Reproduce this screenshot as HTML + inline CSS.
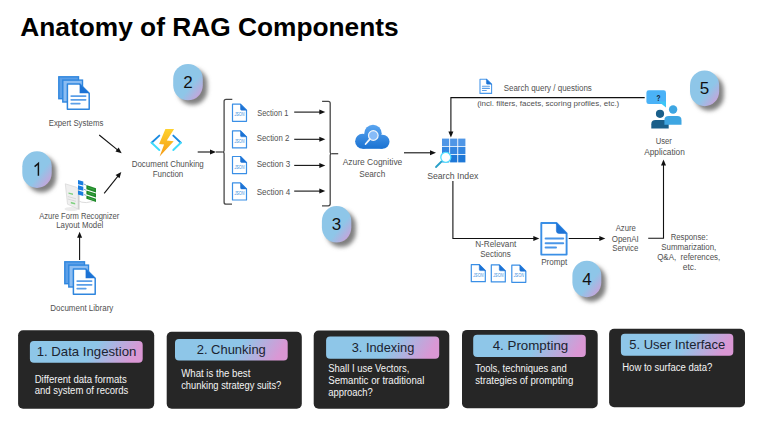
<!DOCTYPE html>
<html><head><meta charset="utf-8">
<style>
html,body{margin:0;padding:0;background:#fff;width:768px;height:421px;overflow:hidden}
svg{display:block}
text{font-family:"Liberation Sans",sans-serif}
.lbl{fill:#505050}
.ttl{font-size:26.3px;font-weight:bold;fill:#000}
.num{font-size:17px;fill:#111}
.hd{fill:#1b2330}
.bd{fill:#f4f4f4}
</style></head><body>
<svg width="768" height="421" viewBox="0 0 768 421">
<defs>
  <linearGradient id="bub" x1="0" y1="0" x2="1" y2="1">
    <stop offset="0.6" stop-color="#8ec6e8"/>
    <stop offset="0.86" stop-color="#c0a8dc"/>
    <stop offset="1" stop-color="#ec96d6"/>
  </linearGradient>
  <linearGradient id="hdr" x1="0" y1="0" x2="1" y2="0.12">
    <stop offset="0.6" stop-color="#8ec6e8"/>
    <stop offset="1" stop-color="#da97d4"/>
  </linearGradient>
  <linearGradient id="bolt" x1="0" y1="0" x2="0" y2="1">
    <stop offset="0" stop-color="#fed22f"/>
    <stop offset="1" stop-color="#f59a16"/>
  </linearGradient>
  <filter id="sh" x="-50%" y="-50%" width="200%" height="200%">
    <feGaussianBlur stdDeviation="2.3"/>
  </filter>
  
  
</defs>

<text class="ttl" x="20.3" y="35.7">Anatomy of RAG Components</text>

<g transform="translate(58,76)">
    <rect x="0.8" y="0.8" width="19.7" height="21.9" fill="#5b9fe8" stroke="#2f86de" stroke-width="1.4"/>
    <rect x="4.8" y="4.1" width="19.7" height="21.9" fill="#8cbdf2" stroke="#2f86de" stroke-width="1.4"/>
    <path d="M9.4,7.9 H21.6 L31.2,17.2 V33.2 H9.4 Z" fill="#fff" stroke="#2f86de" stroke-width="1.5" stroke-linejoin="round"/>
    <path d="M21.6,7.9 L31.2,17.2 H21.6 Z" fill="#1c72d4"/>
    <g stroke="#5b9fe8" stroke-width="1.7" stroke-linecap="round">
    <line x1="13.2" y1="20.1" x2="27.6" y2="20.1"/>
    <line x1="13.2" y1="23.8" x2="27.6" y2="23.8"/>
    <line x1="13.2" y1="27.6" x2="21.8" y2="27.6"/>
    </g>
  </g>
<g transform="translate(64,261)">
    <rect x="0.8" y="0.8" width="19.7" height="21.9" fill="#5b9fe8" stroke="#2f86de" stroke-width="1.4"/>
    <rect x="4.8" y="4.1" width="19.7" height="21.9" fill="#8cbdf2" stroke="#2f86de" stroke-width="1.4"/>
    <path d="M9.4,7.9 H21.6 L31.2,17.2 V33.2 H9.4 Z" fill="#fff" stroke="#2f86de" stroke-width="1.5" stroke-linejoin="round"/>
    <path d="M21.6,7.9 L31.2,17.2 H21.6 Z" fill="#1c72d4"/>
    <g stroke="#5b9fe8" stroke-width="1.7" stroke-linecap="round">
    <line x1="13.2" y1="20.1" x2="27.6" y2="20.1"/>
    <line x1="13.2" y1="23.8" x2="27.6" y2="23.8"/>
    <line x1="13.2" y1="27.6" x2="21.8" y2="27.6"/>
    </g>
  </g>

<text class="lbl" style="white-space:pre" x="48.7" y="125.8" font-size="8.3" textLength="54.61" lengthAdjust="spacingAndGlyphs">Expert Systems</text>
<text class="lbl" style="white-space:pre" x="131.7" y="167.2" font-size="8.3" textLength="72.1" lengthAdjust="spacingAndGlyphs">Document Chunking</text>
<text class="lbl" style="white-space:pre" x="152.7" y="176.6" font-size="8.3" textLength="30.6" lengthAdjust="spacingAndGlyphs">Function</text>
<text class="lbl" style="white-space:pre" x="39.2" y="218.8" font-size="8.3" textLength="80.1" lengthAdjust="spacingAndGlyphs">Azure Form Recognizer</text>
<text class="lbl" style="white-space:pre" x="56.2" y="227.9" font-size="8.3" textLength="47.11" lengthAdjust="spacingAndGlyphs">Layout Model</text>
<text class="lbl" style="white-space:pre" x="50.2" y="310.8" font-size="8.3" textLength="63.11" lengthAdjust="spacingAndGlyphs">Document Library</text>
<text class="lbl" style="white-space:pre" x="257.2" y="115.5" font-size="8.6" textLength="31.1" lengthAdjust="spacingAndGlyphs">Section 1</text>
<text class="lbl" style="white-space:pre" x="256.7" y="141.2" font-size="8.6" textLength="32.61" lengthAdjust="spacingAndGlyphs">Section 2</text>
<text class="lbl" style="white-space:pre" x="256.7" y="167.0" font-size="8.6" textLength="33.62" lengthAdjust="spacingAndGlyphs">Section 3</text>
<text class="lbl" style="white-space:pre" x="256.7" y="194.8" font-size="8.6" textLength="33.62" lengthAdjust="spacingAndGlyphs">Section 4</text>
<text class="lbl" style="white-space:pre" x="342.7" y="164.7" font-size="8.3" textLength="59.62" lengthAdjust="spacingAndGlyphs">Azure Cognitive</text>
<text class="lbl" style="white-space:pre" x="359.2" y="176.7" font-size="8.3" textLength="26.15" lengthAdjust="spacingAndGlyphs">Search</text>
<text class="lbl" style="white-space:pre" x="427.2" y="178.9" font-size="8.3" textLength="51.12" lengthAdjust="spacingAndGlyphs">Search Index</text>
<text class="lbl" style="white-space:pre" x="503.7" y="91.25" font-size="8.3" textLength="88.11" lengthAdjust="spacingAndGlyphs">Search query / questions</text>
<text class="lbl" style="white-space:pre" x="477.2" y="105.6" font-size="7.9" textLength="142.1" lengthAdjust="spacingAndGlyphs">(incl. filters, facets, scoring profiles, etc.)</text>
<text class="lbl" style="white-space:pre" x="655.7" y="144.2" font-size="8.3" textLength="16.12" lengthAdjust="spacingAndGlyphs">User</text>
<text class="lbl" style="white-space:pre" x="644.2" y="154.7" font-size="8.3" textLength="40.65" lengthAdjust="spacingAndGlyphs">Application</text>
<text class="lbl" style="white-space:pre" x="475.2" y="247.0" font-size="8.3" textLength="41.11" lengthAdjust="spacingAndGlyphs">N-Relevant</text>
<text class="lbl" style="white-space:pre" x="480.2" y="256.6" font-size="8.3" textLength="30.62" lengthAdjust="spacingAndGlyphs">Sections</text>
<text class="lbl" style="white-space:pre" x="541.2" y="264.8" font-size="8.3" textLength="26.12" lengthAdjust="spacingAndGlyphs">Prompt</text>
<text class="lbl" style="white-space:pre" x="615.7" y="231.1" font-size="8.3" textLength="20.14" lengthAdjust="spacingAndGlyphs">Azure</text>
<text class="lbl" style="white-space:pre" x="611.7" y="241.6" font-size="8.3" textLength="27.11" lengthAdjust="spacingAndGlyphs">OpenAI</text>
<text class="lbl" style="white-space:pre" x="612.2" y="251.0" font-size="8.3" textLength="26.12" lengthAdjust="spacingAndGlyphs">Service</text>
<text class="lbl" style="white-space:pre" x="670.7" y="240.0" font-size="8.3" textLength="37.11" lengthAdjust="spacingAndGlyphs">Response:</text>
<text class="lbl" style="white-space:pre" x="661.2" y="249.7" font-size="8.3" textLength="55.1" lengthAdjust="spacingAndGlyphs">Summarization,</text>
<text class="lbl" style="white-space:pre" x="657.2" y="259.9" font-size="8.3" textLength="63.12" lengthAdjust="spacingAndGlyphs">Q&amp;A,  references,</text>
<text class="lbl" style="white-space:pre" x="682.7" y="269.5" font-size="8.3" textLength="13.67" lengthAdjust="spacingAndGlyphs">etc.</text>

<g stroke="#111" stroke-width="1.1" fill="none">
<path d="M99.20,135.00 L117.82,150.15"/>
<path d="M104.20,193.30 L118.17,175.90"/>
<path d="M79.60,260.00 L79.60,236.70"/>
<path d="M197.70,152.00 L211.00,152.00"/>
<path d="M294.20,112.10 L320.30,112.10"/>
<path d="M294.20,139.30 L320.30,139.30"/>
<path d="M294.20,165.40 L320.30,165.40"/>
<path d="M294.20,191.10 L320.30,191.10"/>
<path d="M404.00,152.80 L431.00,152.80"/>
<path d="M644.70,97.60 L450.90,97.60 L450.90,132.40"/>
<path d="M452.90,181.00 L452.90,238.50 L534.30,238.50"/>
<path d="M568.70,238.50 L600.30,238.50"/>
<path d="M648.20,238.20 L663.50,238.20 L663.50,164.60"/>
</g>
<g fill="#111">
<path d="M121.70,153.30 L115.47,151.45 L118.62,147.57 Z"/>
<path d="M121.30,172.00 L119.49,178.24 L115.59,175.11 Z"/>
<path d="M79.60,231.70 L82.10,237.70 L77.10,237.70 Z"/>
<path d="M216.00,152.00 L210.00,154.50 L210.00,149.50 Z"/>
<path d="M325.30,112.10 L319.30,114.60 L319.30,109.60 Z"/>
<path d="M325.30,139.30 L319.30,141.80 L319.30,136.80 Z"/>
<path d="M325.30,165.40 L319.30,167.90 L319.30,162.90 Z"/>
<path d="M325.30,191.10 L319.30,193.60 L319.30,188.60 Z"/>
<path d="M436.00,152.80 L430.00,155.30 L430.00,150.30 Z"/>
<path d="M450.90,137.40 L448.40,131.40 L453.40,131.40 Z"/>
<path d="M539.30,238.50 L533.30,241.00 L533.30,236.00 Z"/>
<path d="M605.30,238.50 L599.30,241.00 L599.30,236.00 Z"/>
<path d="M663.50,159.60 L666.00,165.60 L661.00,165.60 Z"/>
</g>
<g stroke="#484848" stroke-width="1.3" fill="none">
  <path d="M232.3,99.3 H226.1 Q224.1,99.3 224.1,101.3 V150.5 Q224.1,152 222.6,152 Q224.1,152 224.1,153.5 V202.2 Q224.1,204.2 226.1,204.2 H232"/>
  <path d="M322.1,101.3 H328.2 Q330.2,101.3 330.2,103.3 V152.2 Q330.2,153.7 331.7,153.7 Q330.2,153.7 330.2,155.2 V203.8 Q330.2,205.8 328.2,205.8 H322"/>
  <path d="M216,152 H222.6"/>
  <path d="M331.7,153.7 H338.2"/>
</g>


<g transform="translate(231.9,103.6)">
    <path d="M0.6,0.6 H8.6 L14.6,6.6 V17.7 H0.6 Z" fill="#fff" stroke="#3a8fe6" stroke-width="1.2" stroke-linejoin="round"/>
    <path d="M8.6,0.6 L14.6,6.6 H9.8 Q8.6,6.6 8.6,5.4 Z" fill="#1c72d4" stroke="#1c72d4" stroke-width="0.5" stroke-linejoin="round"/>
    <text x="7.6" y="12.9" font-size="4.6" fill="#3a8ee0" text-anchor="middle" font-style="italic" textLength="10.2" lengthAdjust="spacingAndGlyphs">JSON</text>
  </g>
<g transform="translate(231.9,130.2)">
    <path d="M0.6,0.6 H8.6 L14.6,6.6 V17.7 H0.6 Z" fill="#fff" stroke="#3a8fe6" stroke-width="1.2" stroke-linejoin="round"/>
    <path d="M8.6,0.6 L14.6,6.6 H9.8 Q8.6,6.6 8.6,5.4 Z" fill="#1c72d4" stroke="#1c72d4" stroke-width="0.5" stroke-linejoin="round"/>
    <text x="7.6" y="12.9" font-size="4.6" fill="#3a8ee0" text-anchor="middle" font-style="italic" textLength="10.2" lengthAdjust="spacingAndGlyphs">JSON</text>
  </g>
<g transform="translate(231.9,155.9)">
    <path d="M0.6,0.6 H8.6 L14.6,6.6 V17.7 H0.6 Z" fill="#fff" stroke="#3a8fe6" stroke-width="1.2" stroke-linejoin="round"/>
    <path d="M8.6,0.6 L14.6,6.6 H9.8 Q8.6,6.6 8.6,5.4 Z" fill="#1c72d4" stroke="#1c72d4" stroke-width="0.5" stroke-linejoin="round"/>
    <text x="7.6" y="12.9" font-size="4.6" fill="#3a8ee0" text-anchor="middle" font-style="italic" textLength="10.2" lengthAdjust="spacingAndGlyphs">JSON</text>
  </g>
<g transform="translate(231.9,182.3)">
    <path d="M0.6,0.6 H8.6 L14.6,6.6 V17.7 H0.6 Z" fill="#fff" stroke="#3a8fe6" stroke-width="1.2" stroke-linejoin="round"/>
    <path d="M8.6,0.6 L14.6,6.6 H9.8 Q8.6,6.6 8.6,5.4 Z" fill="#1c72d4" stroke="#1c72d4" stroke-width="0.5" stroke-linejoin="round"/>
    <text x="7.6" y="12.9" font-size="4.6" fill="#3a8ee0" text-anchor="middle" font-style="italic" textLength="10.2" lengthAdjust="spacingAndGlyphs">JSON</text>
  </g>
<g transform="translate(470.7,264)">
    <path d="M0.6,0.6 H8.6 L14.6,6.6 V17.7 H0.6 Z" fill="#fff" stroke="#3a8fe6" stroke-width="1.2" stroke-linejoin="round"/>
    <path d="M8.6,0.6 L14.6,6.6 H9.8 Q8.6,6.6 8.6,5.4 Z" fill="#1c72d4" stroke="#1c72d4" stroke-width="0.5" stroke-linejoin="round"/>
    <text x="7.6" y="12.9" font-size="4.6" fill="#3a8ee0" text-anchor="middle" font-style="italic" textLength="10.2" lengthAdjust="spacingAndGlyphs">JSON</text>
  </g>
<g transform="translate(490.7,264.2)">
    <path d="M0.6,0.6 H8.6 L14.6,6.6 V17.7 H0.6 Z" fill="#fff" stroke="#3a8fe6" stroke-width="1.2" stroke-linejoin="round"/>
    <path d="M8.6,0.6 L14.6,6.6 H9.8 Q8.6,6.6 8.6,5.4 Z" fill="#1c72d4" stroke="#1c72d4" stroke-width="0.5" stroke-linejoin="round"/>
    <text x="7.6" y="12.9" font-size="4.6" fill="#3a8ee0" text-anchor="middle" font-style="italic" textLength="10.2" lengthAdjust="spacingAndGlyphs">JSON</text>
  </g>
<g transform="translate(511.2,264.6)">
    <path d="M0.6,0.6 H8.6 L14.6,6.6 V17.7 H0.6 Z" fill="#fff" stroke="#3a8fe6" stroke-width="1.2" stroke-linejoin="round"/>
    <path d="M8.6,0.6 L14.6,6.6 H9.8 Q8.6,6.6 8.6,5.4 Z" fill="#1c72d4" stroke="#1c72d4" stroke-width="0.5" stroke-linejoin="round"/>
    <text x="7.6" y="12.9" font-size="4.6" fill="#3a8ee0" text-anchor="middle" font-style="italic" textLength="10.2" lengthAdjust="spacingAndGlyphs">JSON</text>
  </g>

<!-- function icon -->
<g fill="none" stroke-width="1.9" stroke-linecap="round">
  <path d="M159.3,135.6 L151.6,142.7" stroke="#1a8ae0"/>
  <path d="M151.6,142.7 L159.3,150" stroke="#3fdcfc"/>
  <path d="M173.3,135.6 L180.8,142.7" stroke="#1a8ae0"/>
  <path d="M180.8,142.7 L173.3,150" stroke="#3fdcfc"/>
</g>
<path d="M165.4,129 H174.1 L166.8,140.4 L173.7,141.2 L159.6,156.6 L164.1,144.5 L159.1,144 Z" fill="url(#bolt)"/>

<!-- cloud search icon -->
<defs>
  <linearGradient id="cloudg" gradientUnits="userSpaceOnUse" x1="0" y1="124.7" x2="0" y2="148.8">
    <stop offset="0" stop-color="#5aa5f0"/>
    <stop offset="1" stop-color="#1a72d2"/>
  </linearGradient>
</defs>
<g fill="url(#cloudg)">
  <circle cx="373" cy="133.4" r="8.7"/>
  <circle cx="362.6" cy="141.3" r="7.5"/>
  <circle cx="382.5" cy="141.8" r="7"/>
  <rect x="362.6" y="136" width="19.9" height="12.8"/>
</g>
<circle cx="373.3" cy="135.5" r="4.8" fill="#86bbf8" stroke="#f2f6fa" stroke-width="1.2"/>
<line x1="369.9" y1="139.2" x2="365.6" y2="144" stroke="#f2f6fa" stroke-width="1.8" stroke-linecap="round"/>

<!-- search index icon -->
<g>
  <rect x="442" y="138.6" width="7.2" height="7.4" fill="#4f96e6"/>
  <rect x="450.1" y="138.6" width="7.2" height="7.4" fill="#4f96e6"/>
  <rect x="458.2" y="138.6" width="7.2" height="7.4" fill="#4f96e6"/>
  <rect x="442" y="146.8" width="7.2" height="7.4" fill="#3386e0"/>
  <rect x="450.1" y="146.8" width="7.2" height="7.4" fill="#3386e0"/>
  <rect x="458.2" y="146.8" width="7.2" height="7.4" fill="#3386e0"/>
  <rect x="442" y="155" width="7.2" height="7.4" fill="#1e78d7"/>
  <rect x="450.1" y="155" width="7.2" height="7.4" fill="#1e78d7"/>
  <rect x="458.2" y="155" width="7.2" height="7.4" fill="#1e78d7"/>
  <line x1="441.5" y1="161.5" x2="436" y2="167" stroke="#2aa0c8" stroke-width="1.8" stroke-linecap="round"/>
  <circle cx="445.8" cy="157.3" r="5" fill="#fff" stroke="#50e0ff" stroke-width="1.3"/>
</g>

<!-- small doc icon (query) -->
<g>
  <path d="M480,79.2 H486.4 L491.6,84.2 V93.4 H480 Z" fill="#fff" stroke="#4a98ea" stroke-width="1.1" stroke-linejoin="round"/>
  <path d="M486.4,79.2 L491.6,84.2 H487.4 Q486.4,84.2 486.4,83.2 Z" fill="#1a72d4" stroke="#1a72d4" stroke-width="0.4"/>
  <g stroke="#5b9fe8" stroke-width="1.1" stroke-linecap="round">
    <line x1="482.4" y1="86.3" x2="489.4" y2="86.3"/>
    <line x1="482.4" y1="88.4" x2="489.4" y2="88.4"/>
    <line x1="482.4" y1="90.5" x2="486.3" y2="90.5"/>
  </g>
</g>

<!-- prompt doc -->
<g>
  <path d="M541.3,223 H556.4 L566.6,233.4 V254.6 H541.3 Z" fill="#fff" stroke="#3a8fe6" stroke-width="1.9" stroke-linejoin="round"/>
  <path d="M556.4,223 L566.6,233.4 H559 Q556.4,233.4 556.4,230.8 Z" fill="#1f74d6" stroke="#1f74d6" stroke-width="0.6" stroke-linejoin="round"/>
  <g stroke="#4a96e8" stroke-width="2" stroke-linecap="round">
    <line x1="545.6" y1="238.5" x2="563.2" y2="238.5"/>
    <line x1="545.6" y1="243.2" x2="563.2" y2="243.2"/>
    <line x1="545.6" y1="247.6" x2="556" y2="247.6"/>
  </g>
</g>

<!-- user app icon -->
<g>
  <rect x="646.4" y="90.3" width="19.6" height="13.8" rx="2.4" fill="#4ab2f7"/>
  <path d="M658.5,101.5 H666 V107.4 Z" fill="#3cc6f6"/>
  <text x="658.4" y="101.3" font-size="9.6" font-weight="bold" fill="#16263a" text-anchor="middle" textLength="4" lengthAdjust="spacingAndGlyphs">?</text>
  <circle cx="660" cy="113.8" r="4.1" fill="#1a5f8a"/>
  <path d="M651.3,128.6 V124.2 Q651.3,120 655.5,120 H664.5 Q668.7,120 668.7,124.2 V128.6 Z" fill="#1a5f8a"/>
  <circle cx="673.1" cy="109.5" r="4.2" fill="#3ea6e2"/>
  <path d="M664.4,124.8 V120.2 Q664.4,116 668.6,116 H677.3 Q681.5,116 681.5,120.2 V124.8 Z" fill="#3ea6e2"/>
</g>

<!-- form recognizer icon -->
<g>
  <ellipse cx="71.5" cy="209" rx="7" ry="2" fill="#e6e6e6" opacity="0.8"/>
  <path d="M77.5,200.6 Q86,205 95.5,199.8" fill="none" stroke="#dcdcdc" stroke-width="1"/>
  <path d="M65.3,183.8 L76.5,187.3 L79.2,189.5 V209.5 L67.5,204.2 Z" fill="#efefef" stroke="#d6d6d6" stroke-width="0.7"/>
  <path d="M77.8,188.3 L79.2,189.5 V209.5 L77.8,208.8 Z" fill="#cfcfcf"/>
  <path d="M68.5,192.4 L73,193.6 V195 L68.5,193.8 Z" fill="#7fd07f"/>
  <path d="M70.8,201.8 L75.2,203 V204.6 L70.8,203.4 Z" fill="#7fd07f"/>
  <g stroke="#c9c9c9" stroke-width="0.6">
    <line x1="67.8" y1="196.5" x2="76" y2="198.8"/>
    <line x1="67.8" y1="199" x2="76" y2="201.3"/>
  </g>
  <path d="M78,180.1 L83.3,181.5 V185.6 L78,184.2 Z" fill="#1a7ee0"/>
  <path d="M78,185.3 L83.3,186.7 V190.8 L78,189.4 Z" fill="#1a7ee0"/>
  <path d="M78,190.5 L83.3,191.9 V196 L78,194.6 Z" fill="#1a7ee0"/>
  <g stroke="#5a7fb0" stroke-width="0.7"><line x1="83.8" y1="184" x2="86" y2="185"/><line x1="83.8" y1="189.2" x2="86" y2="190.2"/><line x1="83.8" y1="194.4" x2="86" y2="195.4"/></g>
  <path d="M86.4,185.1 L96,188.3 V192.4 L86.4,189.2 Z" fill="#1f8a2a"/>
  <path d="M86.4,190.4 L96,193.6 V197.4 L86.4,194.2 Z" fill="#1f8a2a"/>
  <path d="M86.4,195.6 L96,198.8 V202 L86.4,198.8 Z" fill="#1f8a2a"/>
  <g stroke="#5fbf5f" stroke-width="0.5"><line x1="88" y1="187.5" x2="94.5" y2="189.6"/><line x1="88" y1="192.8" x2="94.5" y2="194.9"/><line x1="88" y1="197.8" x2="94.5" y2="199.9"/></g>
</g>

<!-- number bubbles -->
<g>
  <rect x="26.8" y="155.8" width="29.4" height="36.7" rx="14.70" ry="15" fill="#808080" opacity="1" filter="url(#sh)"/>
  <rect x="22.3" y="151.3" width="29.4" height="36.7" rx="14.70" ry="15" fill="url(#bub)"/>
  <path d="M34.6,166.6 L38.4,163.4 V175.8" fill="none" stroke="#151515" stroke-width="1.45"/>
  <rect x="177.7" y="68.4" width="29.6" height="36.4" rx="14.80" ry="15" fill="#808080" opacity="1" filter="url(#sh)"/>
  <rect x="173.2" y="63.9" width="29.6" height="36.4" rx="14.80" ry="15" fill="url(#bub)"/>
  <text class="num" x="188.0" y="88.2" text-anchor="middle">2</text>
  <rect x="326.4" y="210.5" width="29.4" height="36.6" rx="14.70" ry="15" fill="#808080" opacity="1" filter="url(#sh)"/>
  <rect x="321.9" y="206.0" width="29.4" height="36.6" rx="14.70" ry="15" fill="url(#bub)"/>
  <text class="num" x="336.6" y="230.4" text-anchor="middle">3</text>
  <rect x="576.9" y="265.2" width="28.9" height="36.5" rx="14.45" ry="15" fill="#808080" opacity="1" filter="url(#sh)"/>
  <rect x="572.4" y="260.7" width="28.9" height="36.5" rx="14.45" ry="15" fill="url(#bub)"/>
  <text class="num" x="586.9" y="285.1" text-anchor="middle">4</text>
  <rect x="694.5" y="74.9" width="29.2" height="35.8" rx="14.60" ry="15" fill="#808080" opacity="1" filter="url(#sh)"/>
  <rect x="690.0" y="70.4" width="29.2" height="35.8" rx="14.60" ry="15" fill="url(#bub)"/>
  <text class="num" x="704.6" y="94.4" text-anchor="middle">5</text>
</g>

<!-- cards -->
<g>
  <rect x="18.1" y="330.3" width="136.1" height="78.4" rx="5" fill="#262626"/>
  <rect x="29.9" y="341.0" width="112.8" height="21.8" rx="4" fill="url(#hdr)"/>
  <text class="hd" style="white-space:pre" x="36.7" y="355.6" font-size="12.2" textLength="99.61" lengthAdjust="spacingAndGlyphs">1. Data Ingestion</text>
  <text class="bd" style="white-space:pre" x="34.7" y="382.7" font-size="10.0" textLength="92.1" lengthAdjust="spacingAndGlyphs">Different data formats</text>
  <text class="bd" style="white-space:pre" x="34.7" y="393.8" font-size="10.0" textLength="93.6" lengthAdjust="spacingAndGlyphs">and system of records</text>

  <rect x="166.7" y="331.7" width="135.1" height="77.1" rx="5" fill="#262626"/>
  <rect x="175.0" y="338.9" width="112.7" height="21.7" rx="4" fill="url(#hdr)"/>
  <text class="hd" style="white-space:pre" x="196.7" y="353.8" font-size="12.2" textLength="69.12" lengthAdjust="spacingAndGlyphs">2. Chunking</text>
  <text class="bd" style="white-space:pre" x="181.2" y="376.9" font-size="10.0" textLength="69.12" lengthAdjust="spacingAndGlyphs">What is the best</text>
  <text class="bd" style="white-space:pre" x="181.2" y="388.7" font-size="10.0" textLength="100.1" lengthAdjust="spacingAndGlyphs">chunking strategy suits?</text>

  <rect x="313.7" y="330.5" width="135.6" height="78.2" rx="5" fill="#262626"/>
  <rect x="326.1" y="336.4" width="113.1" height="22.4" rx="4" fill="url(#hdr)"/>
  <text class="hd" style="white-space:pre" x="351.7" y="351.7" font-size="12.2" textLength="62.6" lengthAdjust="spacingAndGlyphs">3. Indexing</text>
  <text class="bd" style="white-space:pre" x="328.2" y="372.4" font-size="10.0" textLength="81.12" lengthAdjust="spacingAndGlyphs">Shall I use Vectors,</text>
  <text class="bd" style="white-space:pre" x="328.2" y="384.4" font-size="10.0" textLength="96.1" lengthAdjust="spacingAndGlyphs">Semantic or traditional</text>
  <text class="bd" style="white-space:pre" x="328.2" y="395.5" font-size="10.0" textLength="44.61" lengthAdjust="spacingAndGlyphs">approach?</text>

  <rect x="462.0" y="329.9" width="135.7" height="78.3" rx="5" fill="#262626"/>
  <rect x="473.2" y="334.8" width="112.6" height="22.2" rx="4" fill="url(#hdr)"/>
  <text class="hd" style="white-space:pre" x="492.7" y="350.2" font-size="12.2" textLength="75.6" lengthAdjust="spacingAndGlyphs">4. Prompting</text>
  <text class="bd" style="white-space:pre" x="475.2" y="372.4" font-size="10.0" textLength="91.6" lengthAdjust="spacingAndGlyphs">Tools, techniques and</text>
  <text class="bd" style="white-space:pre" x="475.2" y="383.8" font-size="10.0" textLength="98.1" lengthAdjust="spacingAndGlyphs">strategies of prompting</text>

  <rect x="609.1" y="328.8" width="135.9" height="78.5" rx="5" fill="#262626"/>
  <rect x="620.9" y="333.8" width="112.4" height="22.0" rx="4" fill="url(#hdr)"/>
  <text class="hd" style="white-space:pre" x="629.2" y="348.7" font-size="12.2" textLength="96.11" lengthAdjust="spacingAndGlyphs">5. User Interface</text>
  <text class="bd" style="white-space:pre" x="622.2" y="370.7" font-size="10.0" textLength="90.1" lengthAdjust="spacingAndGlyphs">How to surface data?</text>

</g>
</svg>
</body></html>
